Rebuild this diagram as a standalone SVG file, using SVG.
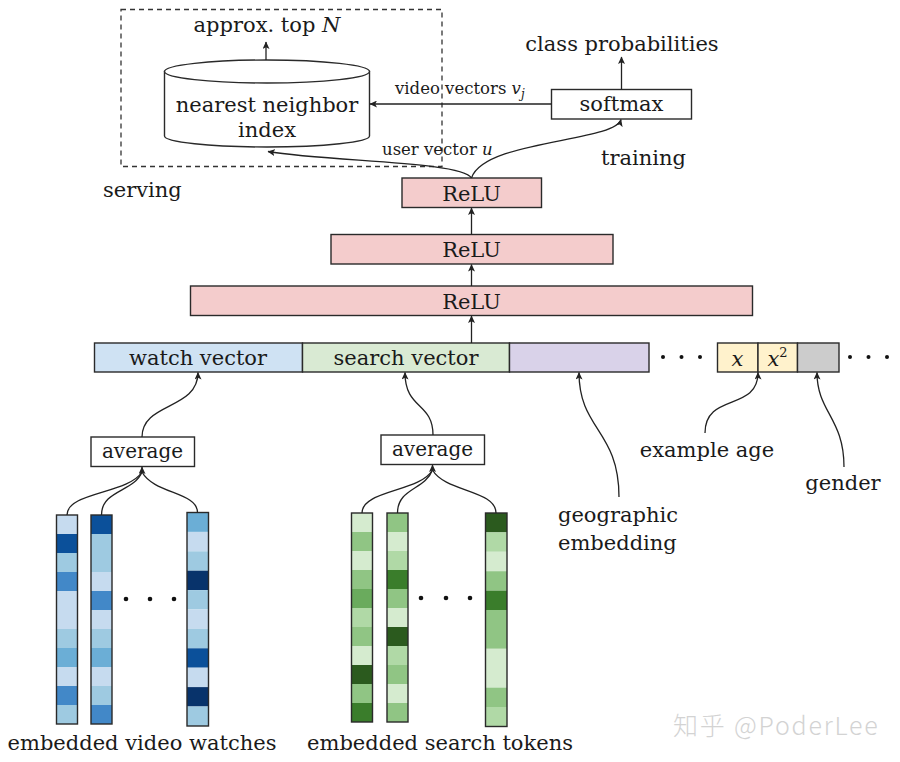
<svg xmlns="http://www.w3.org/2000/svg" width="900" height="762" viewBox="0 0 900 762">
<defs>
<marker id="arr" markerUnits="userSpaceOnUse" markerWidth="8" markerHeight="7" refX="7" refY="3.5" orient="auto" viewBox="0 0 8 7">
<path d="M0,0 L7.5,3.5 L0,7 L1.8,3.5 z" fill="#222"/>
</marker>
<style>
text{font-family:"DejaVu Serif","Liberation Serif",serif;fill:#1a1a1a;}
.t21{font-size:21px;}
.t20{font-size:20px;}
.sm{font-size:16.5px;}
.m{text-anchor:middle;}
.it{font-style:italic;}
.box{stroke:#2a2a2a;stroke-width:1.4;}
.w{fill:#fff;}
.relu{fill:#f4cccc;}
.conn path{fill:none;stroke:#222;stroke-width:1.3;}
.col{fill:none;stroke:#2a2a2a;stroke-width:1.4;}
.b1{fill:#c6dbef;}.b2{fill:#9ecae1;}.b3{fill:#6baed6;}.b4{fill:#4288c8;}.b5{fill:#0b509a;}.b6{fill:#08336b;}
.g1{fill:#d5ebcf;}.g2{fill:#b0d9a6;}.g3{fill:#90c584;}.g4{fill:#6aab5d;}.g5{fill:#3a7d2b;}.g6{fill:#2b5a1e;}
.dot{fill:#111;}
text.wm{font-family:"Noto Sans CJK SC","Noto Sans",sans-serif;font-size:25px;font-weight:300;letter-spacing:1.8px;fill:#d3d3d3;}
</style>
</defs>

<g id="serving-box">
<rect x="121" y="9.5" width="321" height="157" fill="none" stroke="#333" stroke-width="1.3" stroke-dasharray="5 4"/>
<text class="t21" x="103" y="197">serving</text>
</g>

<g id="nn-index">
<path class="box w" d="M164.5,71.5 V136 A102.5,11 0 0 0 369.5,136 V71.5 Z"/>
<ellipse class="box w" cx="267" cy="71.5" rx="102.5" ry="11.5"/>
<text class="t21 m" x="267" y="112">nearest neighbor</text>
<text class="t21 m" x="267" y="137">index</text>
</g>

<g id="topn-label">
<text class="t21 m" x="267" y="32">approx. top <tspan class="it">N</tspan></text>
</g>

<g id="softmax">
<rect class="box w" x="551.5" y="89.5" width="140" height="29.5"/>
<text class="t21 m" x="621.5" y="111">softmax</text>
</g>

<g id="class-prob-label">
<text class="t21 m" x="622" y="51">class probabilities</text>
</g>
<g id="training-label">
<text class="t21" x="601" y="165">training</text>
</g>
<g id="video-vectors-label">
<text class="sm" x="395" y="94">video vectors <tspan class="it">v</tspan><tspan class="it" font-size="12" dy="4">j</tspan></text>
</g>
<g id="user-vector-label">
<text class="sm" x="382" y="155">user vector <tspan class="it">u</tspan></text>
</g>

<g id="relu3">
<rect class="box relu" x="402" y="178" width="139.5" height="29.5"/>
<text class="t21 m" x="471.5" y="201">ReLU</text>
</g>
<g id="relu2">
<rect class="box relu" x="331" y="234.5" width="282" height="29.5"/>
<text class="t21 m" x="471.5" y="257">ReLU</text>
</g>
<g id="relu1">
<rect class="box relu" x="190.5" y="286" width="562" height="29.5"/>
<text class="t21 m" x="471.5" y="309">ReLU</text>
</g>

<g id="watch-vector">
<rect class="box" fill="#cfe2f3" x="94.5" y="343" width="208" height="29"/>
<text class="t21 m" x="198" y="365">watch vector</text>
</g>
<g id="search-vector">
<rect class="box" fill="#d9ead3" x="302.5" y="343" width="207" height="29"/>
<text class="t21 m" x="406" y="365">search vector</text>
</g>
<g id="geo-vector">
<rect class="box" fill="#d9d2e9" x="509.5" y="343" width="139.5" height="29"/>
</g>
<g id="dots-mid">
<circle class="dot" cx="663" cy="357" r="2"/><circle class="dot" cx="681.5" cy="357" r="2"/><circle class="dot" cx="700" cy="357" r="2"/>
</g>
<g id="age-x">
<rect class="box" fill="#fff2cc" x="717.5" y="343" width="40.5" height="29"/>
<text class="t21 m it" x="737.5" y="366">x</text>
</g>
<g id="age-x2">
<rect class="box" fill="#fff2cc" x="758" y="343" width="39.5" height="29"/>
<text class="t21 m" x="777.5" y="366"><tspan class="it">x</tspan><tspan font-size="13" dy="-9">2</tspan></text>
</g>
<g id="gender-box">
<rect class="box" fill="#cccccc" x="797.5" y="343" width="41.5" height="29"/>
</g>
<g id="dots-right">
<circle class="dot" cx="850" cy="357" r="2"/><circle class="dot" cx="868.5" cy="357" r="2"/><circle class="dot" cx="887" cy="357" r="2"/>
</g>

<g id="average-watch">
<rect class="box w" x="91" y="437" width="103.5" height="29.5"/>
<text class="t20 m" x="142.5" y="458">average</text>
</g>
<g id="average-search">
<rect class="box w" x="381" y="435" width="103.5" height="29.5"/>
<text class="t20 m" x="432.5" y="456">average</text>
</g>

<g id="geo-label">
<text class="t21" x="558" y="522">geographic</text>
<text class="t21" x="558" y="550">embedding</text>
</g>
<g id="age-label">
<text class="t21 m" x="707" y="457">example age</text>
</g>
<g id="gender-label">
<text class="t21 m" x="843" y="490">gender</text>
</g>

<g id="watch-col1">
<rect class="b1" x="56.5" y="515" width="21" height="19"/>
<rect class="b5" x="56.5" y="534" width="21" height="19"/>
<rect class="b2" x="56.5" y="553" width="21" height="19"/>
<rect class="b4" x="56.5" y="572" width="21" height="19"/>
<rect class="b1" x="56.5" y="591" width="21" height="38"/>
<rect class="b2" x="56.5" y="629" width="21" height="19"/>
<rect class="b3" x="56.5" y="648" width="21" height="19"/>
<rect class="b1" x="56.5" y="667" width="21" height="19"/>
<rect class="b4" x="56.5" y="686" width="21" height="19"/>
<rect class="b2" x="56.5" y="705" width="21" height="19"/>
<rect class="col" x="56.5" y="515" width="21" height="209"/>
</g>
<g id="watch-col2">
<rect class="b5" x="91" y="515" width="21" height="19"/>
<rect class="b2" x="91" y="534" width="21" height="38"/>
<rect class="b1" x="91" y="572" width="21" height="19"/>
<rect class="b4" x="91" y="591" width="21" height="19"/>
<rect class="b1" x="91" y="610" width="21" height="19"/>
<rect class="b2" x="91" y="629" width="21" height="19"/>
<rect class="b3" x="91" y="648" width="21" height="19"/>
<rect class="b1" x="91" y="667" width="21" height="19"/>
<rect class="b2" x="91" y="686" width="21" height="19"/>
<rect class="b4" x="91" y="705" width="21" height="19"/>
<rect class="col" x="91" y="515" width="21" height="209"/>
</g>
<g id="watch-dots">
<circle class="dot" cx="126" cy="599" r="2.3"/><circle class="dot" cx="150" cy="599" r="2.3"/><circle class="dot" cx="174" cy="599" r="2.3"/>
</g>
<g id="watch-col3">
<rect class="b3" x="187" y="512.5" width="21.5" height="19.4"/>
<rect class="b1" x="187" y="531.9" width="21.5" height="19.4"/>
<rect class="b2" x="187" y="551.3" width="21.5" height="19.4"/>
<rect class="b6" x="187" y="570.7" width="21.5" height="19.4"/>
<rect class="b2" x="187" y="590.1" width="21.5" height="19.4"/>
<rect class="b1" x="187" y="609.5" width="21.5" height="19.4"/>
<rect class="b2" x="187" y="628.9" width="21.5" height="19.4"/>
<rect class="b5" x="187" y="648.3" width="21.5" height="19.4"/>
<rect class="b1" x="187" y="667.7" width="21.5" height="19.4"/>
<rect class="b6" x="187" y="687.1" width="21.5" height="19.4"/>
<rect class="b2" x="187" y="706.5" width="21.5" height="19.5"/>
<rect class="col" x="187" y="512.5" width="21.5" height="213.5"/>
</g>

<g id="search-col1">
<rect class="g1" x="351.5" y="513" width="21" height="19"/>
<rect class="g3" x="351.5" y="532" width="21" height="19"/>
<rect class="g1" x="351.5" y="551" width="21" height="19"/>
<rect class="g3" x="351.5" y="570" width="21" height="19"/>
<rect class="g4" x="351.5" y="589" width="21" height="19"/>
<rect class="g2" x="351.5" y="608" width="21" height="19"/>
<rect class="g3" x="351.5" y="627" width="21" height="19"/>
<rect class="g1" x="351.5" y="646" width="21" height="19"/>
<rect class="g6" x="351.5" y="665" width="21" height="19"/>
<rect class="g3" x="351.5" y="684" width="21" height="19"/>
<rect class="g5" x="351.5" y="703" width="21" height="19"/>
<rect class="col" x="351.5" y="513" width="21" height="209"/>
</g>
<g id="search-col2">
<rect class="g3" x="387" y="513" width="21" height="19"/>
<rect class="g1" x="387" y="532" width="21" height="19"/>
<rect class="g2" x="387" y="551" width="21" height="19"/>
<rect class="g5" x="387" y="570" width="21" height="19"/>
<rect class="g3" x="387" y="589" width="21" height="19"/>
<rect class="g1" x="387" y="608" width="21" height="19"/>
<rect class="g6" x="387" y="627" width="21" height="19"/>
<rect class="g2" x="387" y="646" width="21" height="19"/>
<rect class="g3" x="387" y="665" width="21" height="19"/>
<rect class="g1" x="387" y="684" width="21" height="19"/>
<rect class="g3" x="387" y="703" width="21" height="19"/>
<rect class="col" x="387" y="513" width="21" height="209"/>
</g>
<g id="search-dots">
<circle class="dot" cx="421" cy="598" r="2.3"/><circle class="dot" cx="446" cy="598" r="2.3"/><circle class="dot" cx="470" cy="598" r="2.3"/>
</g>
<g id="search-col3">
<rect class="g6" x="485.5" y="513" width="21.5" height="19.4"/>
<rect class="g2" x="485.5" y="532.4" width="21.5" height="19.4"/>
<rect class="g1" x="485.5" y="551.8" width="21.5" height="19.4"/>
<rect class="g3" x="485.5" y="571.2" width="21.5" height="19.4"/>
<rect class="g5" x="485.5" y="590.6" width="21.5" height="19.4"/>
<rect class="g3" x="485.5" y="610" width="21.5" height="38.8"/>
<rect class="g1" x="485.5" y="648.8" width="21.5" height="38.8"/>
<rect class="g3" x="485.5" y="687.6" width="21.5" height="19.4"/>
<rect class="g2" x="485.5" y="707" width="21.5" height="19.5"/>
<rect class="col" x="485.5" y="513" width="21.5" height="213.5"/>
</g>

<g id="bottom-labels">
<text class="t21 m" x="142" y="750">embedded video watches</text>
<text class="t21 m" x="440" y="750">embedded search tokens</text>
</g>

<g class="conn" id="connectors">
<path d="M266,60 V42" marker-end="url(#arr)"/>
<path d="M621.5,89.5 V57" marker-end="url(#arr)"/>
<path d="M551.5,104 H370" marker-end="url(#arr)"/>
<path d="M471.5,178 C462,161 330,162 268,151.5" marker-end="url(#arr)"/>
<path d="M471.5,178 C484,140 615,142 621,119.5" marker-end="url(#arr)"/>
<path d="M471.5,234.5 V208" marker-end="url(#arr)"/>
<path d="M471.5,286 V264.5" marker-end="url(#arr)"/>
<path d="M471.5,343 V316" marker-end="url(#arr)"/>
<path d="M142,437 C142,402 198,410 198,372.5" marker-end="url(#arr)"/>
<path d="M433,435 C433,402 405,410 405,372.5" marker-end="url(#arr)"/>
<path d="M619,497 C619,430 579,430 579,372.5" marker-end="url(#arr)"/>
<path d="M705,433 C705,392 758,412 758,372.5" marker-end="url(#arr)"/>
<path d="M844,467 C844,418 817,412 817,372.5" marker-end="url(#arr)"/>
<path d="M67,515 C67,492 128,494 142,472"/>
<path d="M101.5,515 C101.5,490 134,492 142,472"/>
<path d="M197.5,512.5 C197.5,492 154,494 142,472"/>
<path d="M142,472 V467" marker-end="url(#arr)"/>
<path d="M362,513 C362,490 420,492 432.5,470"/>
<path d="M397.5,513 C397.5,488 425,490 432.5,470"/>
<path d="M496,513 C496,490 445,492 432.5,470"/>
<path d="M432.5,470 V465" marker-end="url(#arr)"/>
</g>

<g id="watermark">
<text class="wm" x="673" y="735">知乎 @PoderLee</text>
</g>
</svg>
